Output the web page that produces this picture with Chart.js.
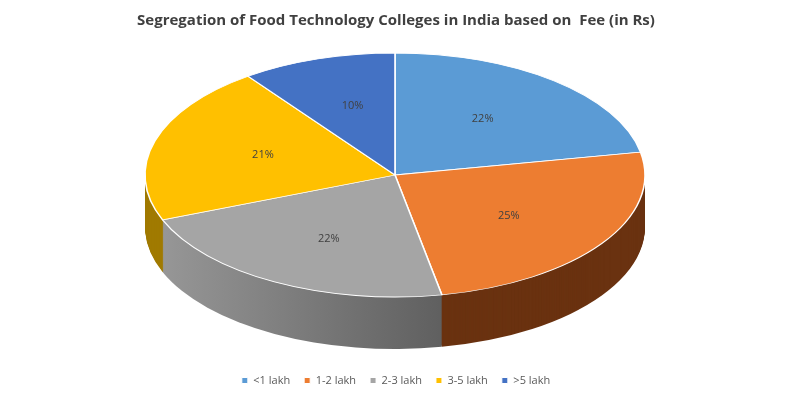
<!DOCTYPE html>
<html>
<head>
<meta charset="utf-8">
<script src="https://cdn.jsdelivr.net/npm/chart.js@4"></script>
<style>
  body { margin: 0; background: #fff; }
  #wrap { width: 792px; height: 400px; }
</style>
</head>
<body>
<div id="wrap"><canvas id="myChart" width="792" height="400"></canvas></div>
<script>
const categories = ['<1 lakh', '1-2 lakh', '2-3 lakh', '3-5 lakh', '>5 lakh'];
const shares = [22, 25, 22, 21, 10];
const topColors = ['#5b9bd5', '#ed7d31', '#a5a5a5', '#ffc000', '#4472c4'];
const sideColors = ['#2f5f8f', '#6a3210', '#7a7a7a', '#a07a00', '#2a4a85'];

const CX = 395;
const CY = 175;
const RX = 250;
const RY = 122;
const DEPTH = 52;

function applyTilt(ctx, arc, dy) {
  const r = arc.outerRadius;
  ctx.translate(CX, CY + dy);
  ctx.scale(RX / r, RY / r);
  ctx.translate(-arc.x, -arc.y);
}

const tiltPlugin = {
  id: 'tilt',
  beforeDatasetsDraw(chart) {
    const ctx = chart.ctx;
    const arcs = chart.getDatasetMeta(0).data;
    for (let d = DEPTH; d > 0; d--) {
      ctx.save();
      applyTilt(ctx, arcs[0], d);
      arcs.forEach((a, i) => {
        ctx.beginPath();
        ctx.moveTo(a.x, a.y);
        ctx.arc(a.x, a.y, a.outerRadius, a.startAngle, a.endAngle);
        ctx.closePath();
        if (i === 2) {
          // gray side goes from lighter on the left to darker on the right
          const g = ctx.createLinearGradient(a.x - a.outerRadius, 0, a.x + a.outerRadius * 0.3, 0);
          g.addColorStop(0, '#9a9a9a');
          g.addColorStop(1, '#5a5a5a');
          ctx.fillStyle = g;
        } else {
          ctx.fillStyle = sideColors[i];
        }
        ctx.fill();
      });
      ctx.restore();
    }
    ctx.save();
    applyTilt(ctx, arcs[0], 0);
  },
  afterDatasetsDraw(chart) {
    const ctx = chart.ctx;
    ctx.restore();
    const arcs = chart.getDatasetMeta(0).data;
    ctx.save();
    ctx.font = '11px "Open Sans", sans-serif';
    ctx.fillStyle = '#404040';
    ctx.textAlign = 'center';
    ctx.textBaseline = 'middle';
    arcs.forEach((a, i) => {
      const mid = (a.startAngle + a.endAngle) / 2;
      const x = CX + Math.cos(mid) * RX * 0.55;
      const y = CY + Math.sin(mid) * RY * 0.6;
      ctx.fillText(shares[i] + '%', x, y);
    });
    ctx.restore();
  }
};

new Chart(document.getElementById('myChart'), {
  type: 'pie',
  data: {
    labels: categories,
    datasets: [{
      data: shares,
      backgroundColor: topColors,
      borderColor: '#ffffff',
      borderWidth: 1,
    }],
  },
  options: {
    responsive: false,
    animation: false,
    events: [],
    layout: { padding: { top: 0, bottom: 4 } },
    plugins: {
      title: {
        display: true,
        text: 'Segregation of Food Technology Colleges in India based on  Fee (in Rs)',
        color: '#404040',
        font: { family: '"Open Sans", sans-serif', size: 15, weight: 'bold' },
        padding: { top: 12, bottom: 20 },
      },
      legend: {
        position: 'bottom',
        labels: {
          color: '#595959',
          font: { family: '"Open Sans", sans-serif', size: 11 },
          usePointStyle: true,
          pointStyle: 'rect',
          boxWidth: 6,
          boxHeight: 6,
          padding: 14,
        },
      },
      tooltip: { enabled: false },
    },
  },
  plugins: [tiltPlugin],
});
</script>
</body>
</html>
